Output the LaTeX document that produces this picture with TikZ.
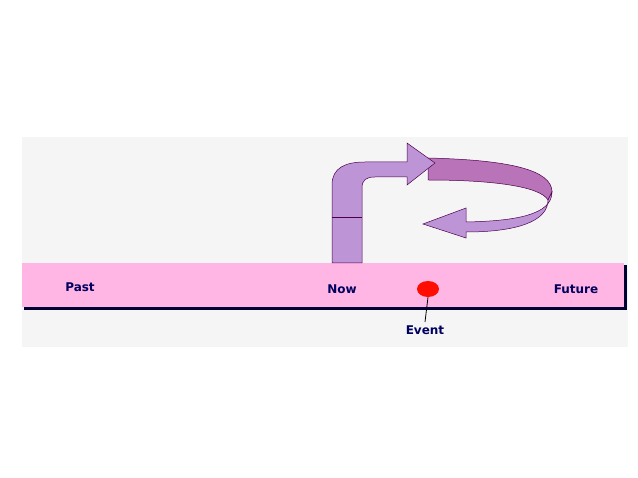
\documentclass[tikz,border=0pt]{standalone}
\usepackage{fontspec}
\setmainfont{DejaVu Sans}
\usetikzlibrary{shapes.geometric}
\begin{document}
\begin{tikzpicture}[x=1pt,y=-1pt,
  lbl/.style={font=\bfseries\fontsize{12}{14}\selectfont, text=blue!30!black!90!blue},
  arr/.style={fill=violet!35!white!90!blue, draw=violet!60!black, line width=0.5pt}]
\useasboundingbox (0,0) rectangle (638,478);
\fill[white] (0,0) rectangle (638,478);
\fill[gray!8] (22,137) rectangle (628,347);
% bar shadow
\fill[blue!20!black] (24,265) rectangle (627,310);
\fill[pink!70!magenta!60!white] (22,263) rectangle (624,307);
% back band
\fill[violet!55!white, draw=violet!60!black, line width=0.5pt] (428,158) .. controls (510,160) and (552,170) .. (552,192) -- (548,200) .. controls (540,186) and (490,180) .. (428,180) -- cycle;
% bent arrow
\path[arr] (332,263) -- (332,185) .. controls (332,168) and (345,162) .. (365,162) -- (407,162) -- (407,143) -- (435,163) -- (407,185) -- (407,177) -- (375,177) .. controls (366,177) and (362,180) .. (362,188) -- (362,263) -- cycle;
\draw[violet!60!black, line width=0.5pt] (332,217) -- (362,217);
% front band with head
\path[arr] (552,192) .. controls (552,215) and (515,221) .. (466,222) -- (466,208) -- (423,224) -- (466,238) -- (466,232) .. controls (515,232) and (548,222) .. (548,200) -- cycle;
\node[lbl] (past) at (80,287) {Past};
\node[lbl] (now) at (342,289) {Now};
\node[lbl] (future) at (576,289) {Future};
\node[ellipse, fill=red!90!orange, minimum width=22pt, minimum height=16pt, inner sep=0pt] (ev) at (428,289) {};
\node[lbl, anchor=north] (evt) at (425,322) {Event};
\draw[line width=0.8pt] (ev.south) -- (evt.north);
\end{tikzpicture}
\end{document}
